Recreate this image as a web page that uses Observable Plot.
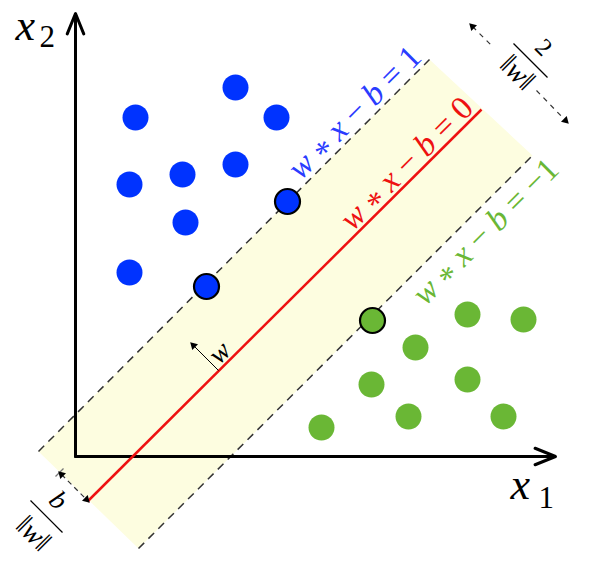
<!DOCTYPE html>
<html><head><meta charset="utf-8">
<script src="https://cdn.jsdelivr.net/npm/d3@7"></script>
<script src="https://cdn.jsdelivr.net/npm/@observablehq/plot@0.6"></script>
<style>
body{margin:0;background:#fff}
svg{display:block}
</style>
</head><body><div id="chart"></div>
<script>
// ---- data (feature space x1, x2) ----
const blueX = [6.0, 16.0, 20.1, 5.4, 10.7, 16.0, 11.0, 5.4];
const blueY = [33.9, 36.9, 33.9, 27.2, 28.2, 29.2, 23.4, 18.4];
const blueSupportX = [21.2, 13.1];
const blueSupportY = [25.5, 17.0];
const greenX = [39.2, 44.8, 34.0, 29.6, 39.2, 24.6, 33.3, 42.8];
const greenY = [14.2, 13.7, 10.9, 7.2, 7.7, 2.9, 4.0, 4.0];
const greenSupportX = [29.7];
const greenSupportY = [13.6];

// hyperplanes w*x-b = 1, 0, -1 (segment ends)
const lineX1 = [-3.7, 1.2, 6.3];
const lineY1 = [0.5, -4.5, -9.2];
const lineX2 = [35.4, 40.6, 45.7];
const lineY2 = [39.7, 34.7, 30.1];
const lineLabels = ["w * x − b = 1", "w * x − b = 0", "w * x − b = −1"];
const lineLabelX = [27.9, 33.1, 41.0];
const lineLabelY = [34.4, 29.3, 22.5];

// axes
const axisX1 = [0, 0], axisY1 = [0, 0], axisX2 = [48, 0], axisY2 = [0, 44.3];
const axisLetter = ["x", "x"];
const axisLetterX = [-6.0, 43.5], axisLetterY = [41.7, -4.2];
const axisSub = ["2", "1"];
const axisSubX = [-3.6, 46.3], axisSubY = [41.0, -5.1];

// margin annotation 2/||w||
const marginSegX1 = [39.7, 46.1], marginSegY1 = [43.0, 36.6];
const marginSegX2 = [41.8, 49.0], marginSegY2 = [40.9, 33.6];
const marginNum = ["2"], marginNumX = [46.8], marginNumY = [40.9];
const marginDen = ["‖w‖"], marginDenX = [44.2], marginDenY = [38.4];
const marginBarX1 = [43.8], marginBarY1 = [41.3], marginBarX2 = [47.2], marginBarY2 = [37.9];

// offset annotation b/||w||
const offTickX1 = [-2.0], offTickY1 = [-2.0], offTickX2 = [-1.2], offTickY2 = [-1.2];
const offSegX1 = [-1.4], offSegY1 = [-1.8], offSegX2 = [1.1], offSegY2 = [-4.3];
const offNum = ["b"], offNumX = [-1.7], offNumY = [-4.4];
const offDen = ["‖w‖"], offDenX = [-4.2], offDenY = [-7.7];
const offBarX1 = [-4.5], offBarY1 = [-4.4], offBarX2 = [-1.3], offBarY2 = [-7.6];

// normal vector w
const normX1 = [14.3], normY1 = [8.6], normX2 = [11.8], normY2 = [11.1];
const normLabel = ["w"], normLabelX = [14.4], normLabelY = [10.4];

// ---- styling ----
const BLUE = "#0033ff", GREEN = "#6ab735", RED = "#ee1111", BAND = "#fdfde0";
const FONT = "Liberation Serif";
const labelColors = ["#2a3cff", RED, GREEN];

const idx = n => d3.range(n);
const band = [
  [lineX1[0], lineY1[0]], [lineX2[0], lineY2[0]],
  [lineX2[2], lineY2[2]], [lineX1[2], lineY1[2]]
];

const tri = (xs, ys, rot) => Plot.dot(idx(xs.length), {
  x: i => xs[i], y: i => ys[i], symbol: "triangle", r: 3, fill: "black", rotate: rot
});

const plot = Plot.plot({
  width: 616, height: 572, margin: 0,
  x: {domain: [-7.5, 54.1], range: [0, 616], axis: null},
  y: {domain: [-11.6, 45.6], range: [572, 0], axis: null},
  style: {background: "white", overflow: "visible"},
  marks: [
    Plot.line(band, {x: d => d[0], y: d => d[1], fill: BAND, stroke: "none", curve: "linear-closed"}),
    Plot.link([0, 2], {x1: i => lineX1[i], y1: i => lineY1[i], x2: i => lineX2[i], y2: i => lineY2[i],
      stroke: "#333", strokeWidth: 1.5, strokeDasharray: "8,6"}),
    Plot.arrow(idx(2), {x1: i => axisX1[i], y1: i => axisY1[i], x2: i => axisX2[i], y2: i => axisY2[i],
      stroke: "black", strokeWidth: 3, headLength: 11, headAngle: 44}),
    Plot.link([1], {x1: i => lineX1[i], y1: i => lineY1[i], x2: i => lineX2[i], y2: i => lineY2[i],
      stroke: RED, strokeWidth: 2.5}),
    Plot.dot(idx(blueX.length), {x: i => blueX[i], y: i => blueY[i], r: 13, fill: BLUE}),
    Plot.dot(idx(greenX.length), {x: i => greenX[i], y: i => greenY[i], r: 13, fill: GREEN}),
    Plot.dot(idx(blueSupportX.length), {x: i => blueSupportX[i], y: i => blueSupportY[i], r: 12.5, fill: BLUE, stroke: "black", strokeWidth: 2.2}),
    Plot.dot(idx(greenSupportX.length), {x: i => greenSupportX[i], y: i => greenSupportY[i], r: 12.5, fill: GREEN, stroke: "black", strokeWidth: 2.2}),
    ...[0, 1, 2].map(k => Plot.text([k], {x: i => lineLabelX[i], y: i => lineLabelY[i], text: i => lineLabels[i],
      rotate: -45, fontSize: 33, fontFamily: FONT, fill: labelColors[k]})),
    Plot.text(idx(2), {x: i => axisLetterX[i], y: i => axisLetterY[i], text: i => axisLetter[i],
      fontSize: 44, fontFamily: FONT, textAnchor: "start", lineAnchor: "bottom", fill: "black"}),
    Plot.text(idx(2), {x: i => axisSubX[i], y: i => axisSubY[i], text: i => axisSub[i],
      fontSize: 31, fontFamily: FONT, textAnchor: "start", lineAnchor: "bottom", fill: "black"}),
    Plot.link(idx(2), {x1: i => marginSegX1[i], y1: i => marginSegY1[i], x2: i => marginSegX2[i], y2: i => marginSegY2[i],
      stroke: "#333", strokeWidth: 1.2, strokeDasharray: "5,5"}),
    tri([marginSegX1[0]], [marginSegY1[0]], -45),
    tri([marginSegX2[1]], [marginSegY2[1]], 135),
    Plot.link([0], {x1: i => marginBarX1[i], y1: i => marginBarY1[i], x2: i => marginBarX2[i], y2: i => marginBarY2[i],
      stroke: "black", strokeWidth: 1.2}),
    Plot.text([0], {x: i => marginNumX[i], y: i => marginNumY[i], text: i => marginNum[i], rotate: 45, fontSize: 25, fontFamily: FONT, fill: "black"}),
    Plot.text([0], {x: i => marginDenX[i], y: i => marginDenY[i], text: i => marginDen[i], rotate: 45, fontSize: 29, fontFamily: FONT, fill: "black"}),
    Plot.link([0], {x1: i => offTickX1[i], y1: i => offTickY1[i], x2: i => offTickX2[i], y2: i => offTickY2[i],
      stroke: "#777", strokeWidth: 1.2}),
    Plot.link([0], {x1: i => offSegX1[i], y1: i => offSegY1[i], x2: i => offSegX2[i], y2: i => offSegY2[i],
      stroke: "#333", strokeWidth: 1.2, strokeDasharray: "5,4"}),
    tri(offSegX1, offSegY1, -45),
    tri(offSegX2, offSegY2, 135),
    Plot.link([0], {x1: i => offBarX1[i], y1: i => offBarY1[i], x2: i => offBarX2[i], y2: i => offBarY2[i],
      stroke: "black", strokeWidth: 1.2}),
    Plot.text([0], {x: i => offNumX[i], y: i => offNumY[i], text: i => offNum[i], rotate: 45, fontSize: 27, fontFamily: FONT, fill: "black"}),
    Plot.text([0], {x: i => offDenX[i], y: i => offDenY[i], text: i => offDen[i], rotate: 45, fontSize: 29, fontFamily: FONT, fill: "black"}),
    Plot.link([0], {x1: i => normX1[i], y1: i => normY1[i], x2: i => normX2[i], y2: i => normY2[i],
      stroke: "black", strokeWidth: 1}),
    tri(normX2, normY2, -45),
    Plot.text([0], {x: i => normLabelX[i], y: i => normLabelY[i], text: i => normLabel[i], rotate: -45, fontSize: 28, fontFamily: FONT, fill: "black"})
  ]
});

// math-style text: italic variables, upright operators/digits, centred asterisk
d3.select(plot).selectAll("text").each(function () {
  const s = this.textContent;
  const sel = d3.select(this);
  sel.text(null);
  const parts = s.match(/[a-z]+|\*|[^a-z*]+/g) || [];
  let shifted = false;
  for (const p of parts) {
    const t = sel.append("tspan").attr("font-style", /[a-z]/.test(p) ? "italic" : "normal");
    if (p === "*") { t.attr("dy", "0.22em"); shifted = true; }
    else if (shifted) { t.attr("dy", "-0.22em"); shifted = false; }
    t.text(p);
  }
});

document.getElementById("chart").appendChild(plot);
</script>
</body></html>
